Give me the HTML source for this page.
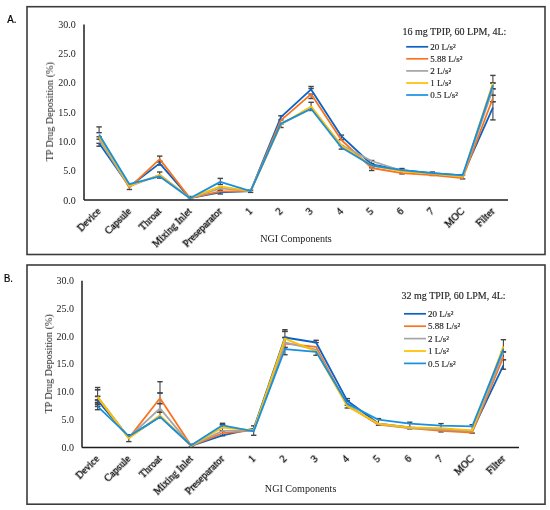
<!DOCTYPE html>
<html><head><meta charset="utf-8"><style>
html,body{margin:0;padding:0;background:#fff;}
svg{display:block;}
svg text{will-change:transform;}
text{font-family:"Liberation Serif",serif;fill:#262626;}
.yl{font-size:10px;fill:#1a1a1a;}
.xl{font-size:10.1px;fill:#000;stroke:#000;stroke-width:0.3px;}
.at{font-size:10.1px;fill:#1a1a1a;}
.lt{font-size:10px;stroke:#262626;stroke-width:0.15px;}
.lg{font-size:9px;stroke:#262626;stroke-width:0.15px;}
.pl{font-family:"Liberation Sans",sans-serif;font-size:10.8px;fill:#000;stroke:#000;stroke-width:0.25px;}
</style></head><body>
<svg width="550" height="510" viewBox="0 0 550 510">
<text transform="translate(7.3,22.5) scale(0.9,1)" class="pl">A.</text>
<text transform="translate(3.9,282) scale(0.88,1)" class="pl">B.</text>
<rect x="27" y="6.7" width="518" height="247.8" fill="none" stroke="#3c3c3c" stroke-width="1.6"/>
<text x="75.8" y="203.80" class="yl" text-anchor="end">0.0</text>
<text x="75.8" y="174.42" class="yl" text-anchor="end">5.0</text>
<text x="75.8" y="145.03" class="yl" text-anchor="end">10.0</text>
<text x="75.8" y="115.65" class="yl" text-anchor="end">15.0</text>
<text x="75.8" y="86.27" class="yl" text-anchor="end">20.0</text>
<text x="75.8" y="56.88" class="yl" text-anchor="end">25.0</text>
<text x="75.8" y="27.50" class="yl" text-anchor="end">30.0</text>
<line x1="84" y1="24.5" x2="84" y2="200.0" stroke="#1e1e1e" stroke-width="1.5"/>
<line x1="84" y1="200.0" x2="508" y2="200.0" stroke="#1e1e1e" stroke-width="1.5"/>
<line x1="99.1" y1="126.9" x2="99.1" y2="132.7" stroke="#444" stroke-width="1.1"/>
<line x1="96.4" y1="126.9" x2="101.8" y2="126.9" stroke="#444" stroke-width="1.4"/>
<line x1="96.4" y1="132.7" x2="101.8" y2="132.7" stroke="#444" stroke-width="1.4"/>
<line x1="99.1" y1="136.8" x2="99.1" y2="139.2" stroke="#444" stroke-width="1.1"/>
<line x1="96.4" y1="136.8" x2="101.8" y2="136.8" stroke="#444" stroke-width="1.4"/>
<line x1="96.4" y1="139.2" x2="101.8" y2="139.2" stroke="#444" stroke-width="1.4"/>
<line x1="99.1" y1="143.3" x2="99.1" y2="146.2" stroke="#444" stroke-width="1.1"/>
<line x1="96.4" y1="143.3" x2="101.8" y2="143.3" stroke="#444" stroke-width="1.4"/>
<line x1="96.4" y1="146.2" x2="101.8" y2="146.2" stroke="#444" stroke-width="1.4"/>
<line x1="129.4" y1="183.6" x2="129.4" y2="189.5" stroke="#444" stroke-width="1.1"/>
<line x1="126.7" y1="183.6" x2="132.1" y2="183.6" stroke="#444" stroke-width="1.4"/>
<line x1="126.7" y1="189.5" x2="132.1" y2="189.5" stroke="#444" stroke-width="1.4"/>
<line x1="159.7" y1="156.1" x2="159.7" y2="162.0" stroke="#444" stroke-width="1.1"/>
<line x1="157.0" y1="156.1" x2="162.4" y2="156.1" stroke="#444" stroke-width="1.4"/>
<line x1="157.0" y1="162.0" x2="162.4" y2="162.0" stroke="#444" stroke-width="1.4"/>
<line x1="159.7" y1="161.0" x2="159.7" y2="165.1" stroke="#444" stroke-width="1.1"/>
<line x1="157.0" y1="161.0" x2="162.4" y2="161.0" stroke="#444" stroke-width="1.4"/>
<line x1="157.0" y1="165.1" x2="162.4" y2="165.1" stroke="#444" stroke-width="1.4"/>
<line x1="159.7" y1="172.0" x2="159.7" y2="178.1" stroke="#444" stroke-width="1.1"/>
<line x1="157.0" y1="172.0" x2="162.4" y2="172.0" stroke="#444" stroke-width="1.4"/>
<line x1="157.0" y1="178.1" x2="162.4" y2="178.1" stroke="#444" stroke-width="1.4"/>
<line x1="190.0" y1="196.5" x2="190.0" y2="199.4" stroke="#444" stroke-width="1.1"/>
<line x1="187.3" y1="196.5" x2="192.7" y2="196.5" stroke="#444" stroke-width="1.4"/>
<line x1="187.3" y1="199.4" x2="192.7" y2="199.4" stroke="#444" stroke-width="1.4"/>
<line x1="220.3" y1="178.4" x2="220.3" y2="184.5" stroke="#444" stroke-width="1.1"/>
<line x1="217.6" y1="178.4" x2="223.0" y2="178.4" stroke="#444" stroke-width="1.4"/>
<line x1="217.6" y1="184.5" x2="223.0" y2="184.5" stroke="#444" stroke-width="1.4"/>
<line x1="220.3" y1="188.1" x2="220.3" y2="190.3" stroke="#444" stroke-width="1.1"/>
<line x1="217.6" y1="188.1" x2="223.0" y2="188.1" stroke="#444" stroke-width="1.4"/>
<line x1="217.6" y1="190.3" x2="223.0" y2="190.3" stroke="#444" stroke-width="1.4"/>
<line x1="220.3" y1="190.3" x2="220.3" y2="194.0" stroke="#444" stroke-width="1.1"/>
<line x1="217.6" y1="190.3" x2="223.0" y2="190.3" stroke="#444" stroke-width="1.4"/>
<line x1="217.6" y1="194.0" x2="223.0" y2="194.0" stroke="#444" stroke-width="1.4"/>
<line x1="250.6" y1="190.1" x2="250.6" y2="192.4" stroke="#444" stroke-width="1.1"/>
<line x1="247.9" y1="190.1" x2="253.3" y2="190.1" stroke="#444" stroke-width="1.4"/>
<line x1="247.9" y1="192.4" x2="253.3" y2="192.4" stroke="#444" stroke-width="1.4"/>
<line x1="280.9" y1="115.8" x2="280.9" y2="119.9" stroke="#444" stroke-width="1.1"/>
<line x1="278.2" y1="115.8" x2="283.6" y2="115.8" stroke="#444" stroke-width="1.4"/>
<line x1="278.2" y1="119.9" x2="283.6" y2="119.9" stroke="#444" stroke-width="1.4"/>
<line x1="280.9" y1="124.0" x2="280.9" y2="127.5" stroke="#444" stroke-width="1.1"/>
<line x1="278.2" y1="124.0" x2="283.6" y2="124.0" stroke="#444" stroke-width="1.4"/>
<line x1="278.2" y1="127.5" x2="283.6" y2="127.5" stroke="#444" stroke-width="1.4"/>
<line x1="311.1" y1="86.5" x2="311.1" y2="88.5" stroke="#444" stroke-width="1.1"/>
<line x1="308.4" y1="86.5" x2="313.8" y2="86.5" stroke="#444" stroke-width="1.4"/>
<line x1="308.4" y1="88.5" x2="313.8" y2="88.5" stroke="#444" stroke-width="1.4"/>
<line x1="311.1" y1="94.1" x2="311.1" y2="98.5" stroke="#444" stroke-width="1.1"/>
<line x1="308.4" y1="94.1" x2="313.8" y2="94.1" stroke="#444" stroke-width="1.4"/>
<line x1="308.4" y1="98.5" x2="313.8" y2="98.5" stroke="#444" stroke-width="1.4"/>
<line x1="311.1" y1="102.3" x2="311.1" y2="110.5" stroke="#444" stroke-width="1.1"/>
<line x1="308.4" y1="102.3" x2="313.8" y2="102.3" stroke="#444" stroke-width="1.4"/>
<line x1="308.4" y1="110.5" x2="313.8" y2="110.5" stroke="#444" stroke-width="1.4"/>
<line x1="341.4" y1="135.1" x2="341.4" y2="139.7" stroke="#444" stroke-width="1.1"/>
<line x1="338.7" y1="135.1" x2="344.1" y2="135.1" stroke="#444" stroke-width="1.4"/>
<line x1="338.7" y1="139.7" x2="344.1" y2="139.7" stroke="#444" stroke-width="1.4"/>
<line x1="341.4" y1="145.6" x2="341.4" y2="149.1" stroke="#444" stroke-width="1.1"/>
<line x1="338.7" y1="145.6" x2="344.1" y2="145.6" stroke="#444" stroke-width="1.4"/>
<line x1="338.7" y1="149.1" x2="344.1" y2="149.1" stroke="#444" stroke-width="1.4"/>
<line x1="371.7" y1="160.5" x2="371.7" y2="163.7" stroke="#444" stroke-width="1.1"/>
<line x1="369.0" y1="160.5" x2="374.4" y2="160.5" stroke="#444" stroke-width="1.4"/>
<line x1="369.0" y1="163.7" x2="374.4" y2="163.7" stroke="#444" stroke-width="1.4"/>
<line x1="371.7" y1="167.8" x2="371.7" y2="170.5" stroke="#444" stroke-width="1.1"/>
<line x1="369.0" y1="167.8" x2="374.4" y2="167.8" stroke="#444" stroke-width="1.4"/>
<line x1="369.0" y1="170.5" x2="374.4" y2="170.5" stroke="#444" stroke-width="1.4"/>
<line x1="402.0" y1="168.5" x2="402.0" y2="173.9" stroke="#444" stroke-width="1.1"/>
<line x1="399.3" y1="168.5" x2="404.7" y2="168.5" stroke="#444" stroke-width="1.4"/>
<line x1="399.3" y1="173.9" x2="404.7" y2="173.9" stroke="#444" stroke-width="1.4"/>
<line x1="432.3" y1="172.0" x2="432.3" y2="175.5" stroke="#444" stroke-width="1.1"/>
<line x1="429.6" y1="172.0" x2="435.0" y2="172.0" stroke="#444" stroke-width="1.4"/>
<line x1="429.6" y1="175.5" x2="435.0" y2="175.5" stroke="#444" stroke-width="1.4"/>
<line x1="462.6" y1="174.8" x2="462.6" y2="178.9" stroke="#444" stroke-width="1.1"/>
<line x1="459.9" y1="174.8" x2="465.3" y2="174.8" stroke="#444" stroke-width="1.4"/>
<line x1="459.9" y1="178.9" x2="465.3" y2="178.9" stroke="#444" stroke-width="1.4"/>
<line x1="492.9" y1="75.4" x2="492.9" y2="83.0" stroke="#444" stroke-width="1.1"/>
<line x1="490.2" y1="75.4" x2="495.6" y2="75.4" stroke="#444" stroke-width="1.4"/>
<line x1="490.2" y1="83.0" x2="495.6" y2="83.0" stroke="#444" stroke-width="1.4"/>
<line x1="492.9" y1="83.0" x2="492.9" y2="88.9" stroke="#444" stroke-width="1.1"/>
<line x1="490.2" y1="83.0" x2="495.6" y2="83.0" stroke="#444" stroke-width="1.4"/>
<line x1="490.2" y1="88.9" x2="495.6" y2="88.9" stroke="#444" stroke-width="1.4"/>
<line x1="492.9" y1="88.9" x2="492.9" y2="95.3" stroke="#444" stroke-width="1.1"/>
<line x1="490.2" y1="88.9" x2="495.6" y2="88.9" stroke="#444" stroke-width="1.4"/>
<line x1="490.2" y1="95.3" x2="495.6" y2="95.3" stroke="#444" stroke-width="1.4"/>
<line x1="492.9" y1="95.3" x2="492.9" y2="101.7" stroke="#444" stroke-width="1.1"/>
<line x1="490.2" y1="95.3" x2="495.6" y2="95.3" stroke="#444" stroke-width="1.4"/>
<line x1="490.2" y1="101.7" x2="495.6" y2="101.7" stroke="#444" stroke-width="1.4"/>
<line x1="492.9" y1="101.7" x2="492.9" y2="119.9" stroke="#444" stroke-width="1.1"/>
<line x1="490.2" y1="101.7" x2="495.6" y2="101.7" stroke="#444" stroke-width="1.4"/>
<line x1="490.2" y1="119.9" x2="495.6" y2="119.9" stroke="#444" stroke-width="1.4"/>
<polyline points="99.1,143.3 129.4,186.5 159.7,163.4 190.0,198.2 220.3,192.4 250.6,191.2 280.9,117.2 311.1,89.4 341.4,136.2 371.7,164.5 402.0,170.2 432.3,173.1 462.6,175.4 492.9,107.6" fill="none" stroke="#0A62C4" stroke-width="1.8" stroke-linejoin="round"/>
<polyline points="99.1,137.4 129.4,187.7 159.7,159.1 190.0,198.2 220.3,191.4 250.6,191.2 280.9,120.4 311.1,94.1 341.4,140.0 371.7,168.0 402.0,173.1 432.3,175.1 462.6,178.1 492.9,98.2" fill="none" stroke="#FA7420" stroke-width="1.8" stroke-linejoin="round"/>
<polyline points="99.1,139.7 129.4,186.5 159.7,174.8 190.0,198.2 220.3,188.3 250.6,191.2 280.9,124.0 311.1,108.7 341.4,145.0 371.7,161.0 402.0,170.8 432.3,173.7 462.6,176.6 492.9,88.9" fill="none" stroke="#A5A5A5" stroke-width="1.8" stroke-linejoin="round"/>
<polyline points="99.1,136.2 129.4,186.0 159.7,175.0 190.0,198.2 220.3,186.3 250.6,191.2 280.9,124.5 311.1,106.4 341.4,145.6 371.7,165.5 402.0,171.3 432.3,173.7 462.6,176.6 492.9,83.0" fill="none" stroke="#FFBF00" stroke-width="1.8" stroke-linejoin="round"/>
<polyline points="99.1,134.5 129.4,184.2 159.7,176.4 190.0,198.2 220.3,181.9 250.6,191.2 280.9,123.6 311.1,108.7 341.4,147.5 371.7,165.5 402.0,170.2 432.3,173.1 462.6,175.4 492.9,85.3" fill="none" stroke="#1690E0" stroke-width="1.8" stroke-linejoin="round"/>
<text transform="translate(101.4,211.9) rotate(-45)" class="xl" text-anchor="end">Device</text>
<text transform="translate(131.7,211.9) rotate(-45)" class="xl" text-anchor="end">Capsule</text>
<text transform="translate(162.0,211.9) rotate(-45)" class="xl" text-anchor="end">Throat</text>
<text transform="translate(192.3,211.9) rotate(-45)" class="xl" text-anchor="end">Mixing Inlet</text>
<text transform="translate(222.6,211.9) rotate(-45)" class="xl" text-anchor="end">Preseparator</text>
<text transform="translate(252.9,211.9) rotate(-45)" class="xl" text-anchor="end">1</text>
<text transform="translate(283.2,211.9) rotate(-45)" class="xl" text-anchor="end">2</text>
<text transform="translate(313.4,211.9) rotate(-45)" class="xl" text-anchor="end">3</text>
<text transform="translate(343.7,211.9) rotate(-45)" class="xl" text-anchor="end">4</text>
<text transform="translate(374.0,211.9) rotate(-45)" class="xl" text-anchor="end">5</text>
<text transform="translate(404.3,211.9) rotate(-45)" class="xl" text-anchor="end">6</text>
<text transform="translate(434.6,211.9) rotate(-45)" class="xl" text-anchor="end">7</text>
<text transform="translate(464.9,211.9) rotate(-45)" class="xl" text-anchor="end">MOC</text>
<text transform="translate(495.2,211.9) rotate(-45)" class="xl" text-anchor="end">Filter</text>
<text x="296" y="242.2" class="at" text-anchor="middle">NGI Components</text>
<text transform="translate(53,111.7) rotate(-90)" class="at" text-anchor="middle">TP Drug Deposition (%)</text>
<text x="402.4" y="35" class="lt">16 mg TPIP, 60 LPM, 4L:</text>
<line x1="406.2" y1="46.8" x2="428.2" y2="46.8" stroke="#0A62C4" stroke-width="1.7"/>
<text x="430.2" y="50.0" class="lg">20 L/s²</text>
<line x1="406.2" y1="58.8" x2="428.2" y2="58.8" stroke="#FA7420" stroke-width="1.7"/>
<text x="430.2" y="62.0" class="lg">5.88 L/s²</text>
<line x1="406.2" y1="70.9" x2="428.2" y2="70.9" stroke="#A5A5A5" stroke-width="1.7"/>
<text x="430.2" y="74.1" class="lg">2 L/s²</text>
<line x1="406.2" y1="83.0" x2="428.2" y2="83.0" stroke="#FFBF00" stroke-width="1.7"/>
<text x="430.2" y="86.2" class="lg">1 L/s²</text>
<line x1="406.2" y1="95.0" x2="428.2" y2="95.0" stroke="#1690E0" stroke-width="1.7"/>
<text x="430.2" y="98.2" class="lg">0.5 L/s²</text>
<rect x="27" y="265" width="518" height="239.2" fill="none" stroke="#3c3c3c" stroke-width="1.6"/>
<text x="74.0" y="450.60" class="yl" text-anchor="end">0.0</text>
<text x="74.0" y="422.85" class="yl" text-anchor="end">5.0</text>
<text x="74.0" y="395.10" class="yl" text-anchor="end">10.0</text>
<text x="74.0" y="367.35" class="yl" text-anchor="end">15.0</text>
<text x="74.0" y="339.60" class="yl" text-anchor="end">20.0</text>
<text x="74.0" y="311.85" class="yl" text-anchor="end">25.0</text>
<text x="74.0" y="284.10" class="yl" text-anchor="end">30.0</text>
<line x1="82" y1="280.8" x2="82" y2="447.5" stroke="#1e1e1e" stroke-width="1.5"/>
<line x1="82" y1="447.5" x2="519" y2="447.5" stroke="#1e1e1e" stroke-width="1.5"/>
<line x1="97.6" y1="387.5" x2="97.6" y2="389.7" stroke="#444" stroke-width="1.1"/>
<line x1="94.9" y1="387.5" x2="100.3" y2="387.5" stroke="#444" stroke-width="1.4"/>
<line x1="94.9" y1="389.7" x2="100.3" y2="389.7" stroke="#444" stroke-width="1.4"/>
<line x1="97.6" y1="389.7" x2="97.6" y2="396.4" stroke="#444" stroke-width="1.1"/>
<line x1="94.9" y1="389.7" x2="100.3" y2="389.7" stroke="#444" stroke-width="1.4"/>
<line x1="94.9" y1="396.4" x2="100.3" y2="396.4" stroke="#444" stroke-width="1.4"/>
<line x1="97.6" y1="396.4" x2="97.6" y2="400.0" stroke="#444" stroke-width="1.1"/>
<line x1="94.9" y1="396.4" x2="100.3" y2="396.4" stroke="#444" stroke-width="1.4"/>
<line x1="94.9" y1="400.0" x2="100.3" y2="400.0" stroke="#444" stroke-width="1.4"/>
<line x1="97.6" y1="400.0" x2="97.6" y2="402.5" stroke="#444" stroke-width="1.1"/>
<line x1="94.9" y1="400.0" x2="100.3" y2="400.0" stroke="#444" stroke-width="1.4"/>
<line x1="94.9" y1="402.5" x2="100.3" y2="402.5" stroke="#444" stroke-width="1.4"/>
<line x1="97.6" y1="402.5" x2="97.6" y2="404.2" stroke="#444" stroke-width="1.1"/>
<line x1="94.9" y1="402.5" x2="100.3" y2="402.5" stroke="#444" stroke-width="1.4"/>
<line x1="94.9" y1="404.2" x2="100.3" y2="404.2" stroke="#444" stroke-width="1.4"/>
<line x1="97.6" y1="404.2" x2="97.6" y2="406.4" stroke="#444" stroke-width="1.1"/>
<line x1="94.9" y1="404.2" x2="100.3" y2="404.2" stroke="#444" stroke-width="1.4"/>
<line x1="94.9" y1="406.4" x2="100.3" y2="406.4" stroke="#444" stroke-width="1.4"/>
<line x1="97.6" y1="406.4" x2="97.6" y2="409.7" stroke="#444" stroke-width="1.1"/>
<line x1="94.9" y1="406.4" x2="100.3" y2="406.4" stroke="#444" stroke-width="1.4"/>
<line x1="94.9" y1="409.7" x2="100.3" y2="409.7" stroke="#444" stroke-width="1.4"/>
<line x1="128.8" y1="434.7" x2="128.8" y2="441.6" stroke="#444" stroke-width="1.1"/>
<line x1="126.1" y1="434.7" x2="131.5" y2="434.7" stroke="#444" stroke-width="1.4"/>
<line x1="126.1" y1="441.6" x2="131.5" y2="441.6" stroke="#444" stroke-width="1.4"/>
<line x1="160.0" y1="381.7" x2="160.0" y2="393.0" stroke="#444" stroke-width="1.1"/>
<line x1="157.3" y1="381.7" x2="162.7" y2="381.7" stroke="#444" stroke-width="1.4"/>
<line x1="157.3" y1="393.0" x2="162.7" y2="393.0" stroke="#444" stroke-width="1.4"/>
<line x1="160.0" y1="393.0" x2="160.0" y2="403.6" stroke="#444" stroke-width="1.1"/>
<line x1="157.3" y1="393.0" x2="162.7" y2="393.0" stroke="#444" stroke-width="1.4"/>
<line x1="157.3" y1="403.6" x2="162.7" y2="403.6" stroke="#444" stroke-width="1.4"/>
<line x1="160.0" y1="403.6" x2="160.0" y2="412.3" stroke="#444" stroke-width="1.1"/>
<line x1="157.3" y1="403.6" x2="162.7" y2="403.6" stroke="#444" stroke-width="1.4"/>
<line x1="157.3" y1="412.3" x2="162.7" y2="412.3" stroke="#444" stroke-width="1.4"/>
<line x1="160.0" y1="412.3" x2="160.0" y2="418.0" stroke="#444" stroke-width="1.1"/>
<line x1="157.3" y1="412.3" x2="162.7" y2="412.3" stroke="#444" stroke-width="1.4"/>
<line x1="157.3" y1="418.0" x2="162.7" y2="418.0" stroke="#444" stroke-width="1.4"/>
<line x1="191.2" y1="444.2" x2="191.2" y2="446.9" stroke="#444" stroke-width="1.1"/>
<line x1="188.6" y1="444.2" x2="193.9" y2="444.2" stroke="#444" stroke-width="1.4"/>
<line x1="188.6" y1="446.9" x2="193.9" y2="446.9" stroke="#444" stroke-width="1.4"/>
<line x1="222.5" y1="423.3" x2="222.5" y2="424.7" stroke="#444" stroke-width="1.1"/>
<line x1="219.8" y1="423.3" x2="225.2" y2="423.3" stroke="#444" stroke-width="1.4"/>
<line x1="219.8" y1="424.7" x2="225.2" y2="424.7" stroke="#444" stroke-width="1.4"/>
<line x1="222.5" y1="424.7" x2="222.5" y2="430.8" stroke="#444" stroke-width="1.1"/>
<line x1="219.8" y1="424.7" x2="225.2" y2="424.7" stroke="#444" stroke-width="1.4"/>
<line x1="219.8" y1="430.8" x2="225.2" y2="430.8" stroke="#444" stroke-width="1.4"/>
<line x1="222.5" y1="430.8" x2="222.5" y2="435.8" stroke="#444" stroke-width="1.1"/>
<line x1="219.8" y1="430.8" x2="225.2" y2="430.8" stroke="#444" stroke-width="1.4"/>
<line x1="219.8" y1="435.8" x2="225.2" y2="435.8" stroke="#444" stroke-width="1.4"/>
<line x1="253.7" y1="425.8" x2="253.7" y2="435.3" stroke="#444" stroke-width="1.1"/>
<line x1="251.0" y1="425.8" x2="256.4" y2="425.8" stroke="#444" stroke-width="1.4"/>
<line x1="251.0" y1="435.3" x2="256.4" y2="435.3" stroke="#444" stroke-width="1.4"/>
<line x1="284.9" y1="329.7" x2="284.9" y2="331.4" stroke="#444" stroke-width="1.1"/>
<line x1="282.2" y1="329.7" x2="287.6" y2="329.7" stroke="#444" stroke-width="1.4"/>
<line x1="282.2" y1="331.4" x2="287.6" y2="331.4" stroke="#444" stroke-width="1.4"/>
<line x1="284.9" y1="331.4" x2="284.9" y2="337.5" stroke="#444" stroke-width="1.1"/>
<line x1="282.2" y1="331.4" x2="287.6" y2="331.4" stroke="#444" stroke-width="1.4"/>
<line x1="282.2" y1="337.5" x2="287.6" y2="337.5" stroke="#444" stroke-width="1.4"/>
<line x1="284.9" y1="337.5" x2="284.9" y2="347.5" stroke="#444" stroke-width="1.1"/>
<line x1="282.2" y1="337.5" x2="287.6" y2="337.5" stroke="#444" stroke-width="1.4"/>
<line x1="282.2" y1="347.5" x2="287.6" y2="347.5" stroke="#444" stroke-width="1.4"/>
<line x1="284.9" y1="347.5" x2="284.9" y2="354.7" stroke="#444" stroke-width="1.1"/>
<line x1="282.2" y1="347.5" x2="287.6" y2="347.5" stroke="#444" stroke-width="1.4"/>
<line x1="282.2" y1="354.7" x2="287.6" y2="354.7" stroke="#444" stroke-width="1.4"/>
<line x1="316.1" y1="340.3" x2="316.1" y2="342.5" stroke="#444" stroke-width="1.1"/>
<line x1="313.4" y1="340.3" x2="318.8" y2="340.3" stroke="#444" stroke-width="1.4"/>
<line x1="313.4" y1="342.5" x2="318.8" y2="342.5" stroke="#444" stroke-width="1.4"/>
<line x1="316.1" y1="350.8" x2="316.1" y2="355.3" stroke="#444" stroke-width="1.1"/>
<line x1="313.4" y1="350.8" x2="318.8" y2="350.8" stroke="#444" stroke-width="1.4"/>
<line x1="313.4" y1="355.3" x2="318.8" y2="355.3" stroke="#444" stroke-width="1.4"/>
<line x1="347.3" y1="398.6" x2="347.3" y2="400.8" stroke="#444" stroke-width="1.1"/>
<line x1="344.6" y1="398.6" x2="350.0" y2="398.6" stroke="#444" stroke-width="1.4"/>
<line x1="344.6" y1="400.8" x2="350.0" y2="400.8" stroke="#444" stroke-width="1.4"/>
<line x1="347.3" y1="405.3" x2="347.3" y2="408.0" stroke="#444" stroke-width="1.1"/>
<line x1="344.6" y1="405.3" x2="350.0" y2="405.3" stroke="#444" stroke-width="1.4"/>
<line x1="344.6" y1="408.0" x2="350.0" y2="408.0" stroke="#444" stroke-width="1.4"/>
<line x1="378.5" y1="418.6" x2="378.5" y2="425.3" stroke="#444" stroke-width="1.1"/>
<line x1="375.8" y1="418.6" x2="381.2" y2="418.6" stroke="#444" stroke-width="1.4"/>
<line x1="375.8" y1="425.3" x2="381.2" y2="425.3" stroke="#444" stroke-width="1.4"/>
<line x1="409.8" y1="422.2" x2="409.8" y2="428.9" stroke="#444" stroke-width="1.1"/>
<line x1="407.1" y1="422.2" x2="412.4" y2="422.2" stroke="#444" stroke-width="1.4"/>
<line x1="407.1" y1="428.9" x2="412.4" y2="428.9" stroke="#444" stroke-width="1.4"/>
<line x1="441.0" y1="423.6" x2="441.0" y2="431.9" stroke="#444" stroke-width="1.1"/>
<line x1="438.3" y1="423.6" x2="443.7" y2="423.6" stroke="#444" stroke-width="1.4"/>
<line x1="438.3" y1="431.9" x2="443.7" y2="431.9" stroke="#444" stroke-width="1.4"/>
<line x1="472.2" y1="424.7" x2="472.2" y2="433.1" stroke="#444" stroke-width="1.1"/>
<line x1="469.5" y1="424.7" x2="474.9" y2="424.7" stroke="#444" stroke-width="1.4"/>
<line x1="469.5" y1="433.1" x2="474.9" y2="433.1" stroke="#444" stroke-width="1.4"/>
<line x1="503.4" y1="339.7" x2="503.4" y2="351.9" stroke="#444" stroke-width="1.1"/>
<line x1="500.7" y1="339.7" x2="506.1" y2="339.7" stroke="#444" stroke-width="1.4"/>
<line x1="500.7" y1="351.9" x2="506.1" y2="351.9" stroke="#444" stroke-width="1.4"/>
<line x1="503.4" y1="351.9" x2="503.4" y2="359.7" stroke="#444" stroke-width="1.1"/>
<line x1="500.7" y1="351.9" x2="506.1" y2="351.9" stroke="#444" stroke-width="1.4"/>
<line x1="500.7" y1="359.7" x2="506.1" y2="359.7" stroke="#444" stroke-width="1.4"/>
<line x1="503.4" y1="359.7" x2="503.4" y2="369.2" stroke="#444" stroke-width="1.1"/>
<line x1="500.7" y1="359.7" x2="506.1" y2="359.7" stroke="#444" stroke-width="1.4"/>
<line x1="500.7" y1="369.2" x2="506.1" y2="369.2" stroke="#444" stroke-width="1.4"/>
<polyline points="97.6,400.3 128.8,437.5 160.0,416.4 191.2,445.8 222.5,435.3 253.7,428.6 284.9,337.5 316.1,342.5 347.3,400.8 378.5,423.6 409.8,427.5 441.0,429.7 472.2,430.8 503.4,365.3" fill="none" stroke="#0A62C4" stroke-width="1.8" stroke-linejoin="round"/>
<polyline points="97.6,397.5 128.8,438.1 160.0,398.3 191.2,445.8 222.5,433.1 253.7,430.3 284.9,343.6 316.1,346.9 347.3,405.3 378.5,424.7 409.8,428.1 441.0,430.8 472.2,432.5 503.4,356.9" fill="none" stroke="#FA7420" stroke-width="1.8" stroke-linejoin="round"/>
<polyline points="97.6,396.9 128.8,437.5 160.0,408.3 191.2,445.8 222.5,430.8 253.7,430.3 284.9,342.5 316.1,349.7 347.3,405.3 378.5,424.2 409.8,428.1 441.0,429.7 472.2,430.8 503.4,352.5" fill="none" stroke="#A5A5A5" stroke-width="1.8" stroke-linejoin="round"/>
<polyline points="97.6,396.9 128.8,438.4 160.0,415.3 191.2,445.8 222.5,427.5 253.7,430.3 284.9,338.6 316.1,351.4 347.3,406.4 378.5,423.6 409.8,427.5 441.0,428.1 472.2,430.3 503.4,346.4" fill="none" stroke="#FFBF00" stroke-width="1.8" stroke-linejoin="round"/>
<polyline points="97.6,406.4 128.8,436.2 160.0,416.9 191.2,445.3 222.5,425.3 253.7,431.4 284.9,349.1 316.1,351.9 347.3,403.6 378.5,419.7 409.8,423.6 441.0,425.6 472.2,426.4 503.4,349.1" fill="none" stroke="#1690E0" stroke-width="1.8" stroke-linejoin="round"/>
<text transform="translate(99.9,459.4) rotate(-45)" class="xl" text-anchor="end">Device</text>
<text transform="translate(131.1,459.4) rotate(-45)" class="xl" text-anchor="end">Capsule</text>
<text transform="translate(162.3,459.4) rotate(-45)" class="xl" text-anchor="end">Throat</text>
<text transform="translate(193.6,459.4) rotate(-45)" class="xl" text-anchor="end">Mixing Inlet</text>
<text transform="translate(224.8,459.4) rotate(-45)" class="xl" text-anchor="end">Preseparator</text>
<text transform="translate(256.0,459.4) rotate(-45)" class="xl" text-anchor="end">1</text>
<text transform="translate(287.2,459.4) rotate(-45)" class="xl" text-anchor="end">2</text>
<text transform="translate(318.4,459.4) rotate(-45)" class="xl" text-anchor="end">3</text>
<text transform="translate(349.6,459.4) rotate(-45)" class="xl" text-anchor="end">4</text>
<text transform="translate(380.8,459.4) rotate(-45)" class="xl" text-anchor="end">5</text>
<text transform="translate(412.1,459.4) rotate(-45)" class="xl" text-anchor="end">6</text>
<text transform="translate(443.3,459.4) rotate(-45)" class="xl" text-anchor="end">7</text>
<text transform="translate(474.5,459.4) rotate(-45)" class="xl" text-anchor="end">MOC</text>
<text transform="translate(505.7,459.4) rotate(-45)" class="xl" text-anchor="end">Filter</text>
<text x="300.6" y="491.8" class="at" text-anchor="middle">NGI Components</text>
<text transform="translate(52,363.8) rotate(-90)" class="at" text-anchor="middle">TP Drug Deposition (%)</text>
<text x="401.6" y="298.8" class="lt">32 mg TPIP, 60 LPM, 4L:</text>
<line x1="404" y1="313.8" x2="426" y2="313.8" stroke="#0A62C4" stroke-width="1.7"/>
<text x="428" y="317.0" class="lg">20 L/s²</text>
<line x1="404" y1="326.2" x2="426" y2="326.2" stroke="#FA7420" stroke-width="1.7"/>
<text x="428" y="329.4" class="lg">5.88 L/s²</text>
<line x1="404" y1="338.6" x2="426" y2="338.6" stroke="#A5A5A5" stroke-width="1.7"/>
<text x="428" y="341.8" class="lg">2 L/s²</text>
<line x1="404" y1="351.0" x2="426" y2="351.0" stroke="#FFBF00" stroke-width="1.7"/>
<text x="428" y="354.2" class="lg">1 L/s²</text>
<line x1="404" y1="363.4" x2="426" y2="363.4" stroke="#1690E0" stroke-width="1.7"/>
<text x="428" y="366.6" class="lg">0.5 L/s²</text>
</svg>
</body></html>
